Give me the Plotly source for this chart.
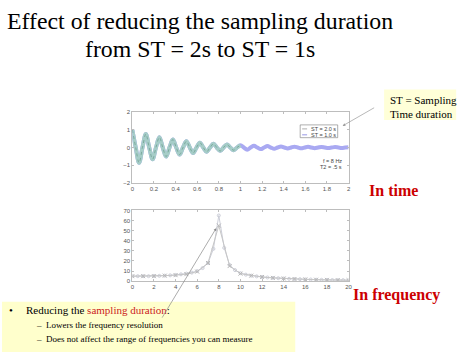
import numpy as np
import plotly.graph_objects as go

# ---------------- data ----------------
# time signal: extremes (peaks/troughs) and zero crossings, every 1/32 s, 0..2 s
t_signal = list(np.linspace(0, 2, 65))
x_signal = [1.00, 0, -0.86, 0, 0.76, 0, -0.66, 0, 0.58, 0, -0.51, 0, 0.45, 0, -0.40, 0,
            0.35, 0, -0.31, 0, 0.27, 0, -0.24, 0, 0.21, 0, -0.19, 0, 0.17, 0, -0.15, 0,
            0.13, 0, -0.12, 0, 0.10, 0, -0.09, 0, 0.08, 0, -0.07, 0, 0.06, 0, -0.055, 0,
            0.05, 0, -0.045, 0, 0.04, 0, -0.035, 0, 0.03, 0, -0.027, 0, 0.024, 0, -0.021, 0,
            0.018]
st1_len = 33  # samples covering 0..1 s

# spectrum, ST = 2 s (0.5 Hz resolution)
f_st2 = [i * 0.5 for i in range(41)]
mag_st2 = [5, 5, 5, 5, 5.2, 5.3, 5.5, 5.8, 6.2, 6.8, 7.5, 8.5, 10, 13, 18, 32, 65, 33, 16, 11,
           8, 6.5, 5.5, 4.8, 4.2, 3.7, 3.3, 3.0, 2.7, 2.4, 2.2, 2.0, 1.8, 1.7, 1.5, 1.4,
           1.3, 1.2, 1.1, 1.05, 1.0]
# spectrum, ST = 1 s (1 Hz resolution)
f_st1 = list(range(21))
mag_st1 = [5, 5, 5, 5.5, 6, 7, 9.5, 18, 55, 15, 7.5, 5.5, 4.2, 3.3, 2.7, 2.2, 1.8, 1.5, 1.3, 1.1, 1.0]

time_ticks = [0, 0.2, 0.4, 0.6, 0.8, 1, 1.2, 1.4, 1.6, 1.8, 2]
time_labels = ["0", "0.2", "0.4", "0.6", "0.8", "1", "1.2", "1.4", "1.6", "1.8", "2"]
freq_ticks = list(range(0, 21, 2))
amp_ticks = [-2, -1, 0, 1, 2]
mag_ticks = list(range(0, 71, 10))

W, H = 474, 355
SERIF = "Liberation Serif, Times New Roman, DejaVu Serif, serif"
def px(x): return x / W
def py(y): return 1 - y / H

fig = go.Figure()

# upper plot
fig.add_trace(go.Scatter(x=t_signal, y=x_signal, mode="lines", line=dict(color="#a9a9f2", width=4, shape="spline"),
                         name="ST = 2.0 s", xaxis="x", yaxis="y"))
fig.add_trace(go.Scatter(x=t_signal[:st1_len], y=x_signal[:st1_len], mode="lines",
                         line=dict(color="#a6cdc8", width=4, shape="spline"),
                         name="ST = 1.0 s", xaxis="x", yaxis="y"))
fig.add_trace(go.Scatter(x=t_signal[:st1_len], y=x_signal[:st1_len], mode="lines",
                         line=dict(color="#6a9a8c", width=0.7, shape="spline", dash="dot"),
                         showlegend=False, xaxis="x", yaxis="y"))

# lower plot
fig.add_trace(go.Scatter(x=f_st2, y=mag_st2, mode="lines+markers",
                         line=dict(color="#ccced8", width=1),
                         marker=dict(symbol="circle-open", size=3, color="#ccced8"),
                         name="ST = 2 s", xaxis="x2", yaxis="y2"))
fig.add_trace(go.Scatter(x=f_st1, y=mag_st1, mode="lines+markers",
                         line=dict(color="#c6c6c6", width=1),
                         marker=dict(symbol="x-thin-open", size=4, color="#b8b8b8", line=dict(width=1, color="#b8b8b8")),
                         name="ST = 1 s", xaxis="x2", yaxis="y2"))

axis_common = dict(showgrid=False, zeroline=False, showline=True, mirror="ticks", linecolor="#bdbdbd",
                   linewidth=1, ticks="inside", ticklen=2, tickcolor="#bdbdbd",
                   tickfont=dict(size=6, color="#555", family="Liberation Sans"))

fig.update_layout(
    width=W, height=H, margin=dict(l=0, r=0, t=0, b=0),
    paper_bgcolor="white", plot_bgcolor="white", showlegend=False,
    xaxis=dict(domain=[px(132), px(351)], range=[0, 2], tickvals=time_ticks, ticktext=time_labels,
               anchor="y", **axis_common),
    yaxis=dict(domain=[py(183), py(111)], range=[-2, 2], tickvals=amp_ticks, anchor="x", **axis_common),
    xaxis2=dict(domain=[px(132), px(351)], range=[0, 20], tickvals=freq_ticks, anchor="y2", **axis_common),
    yaxis2=dict(domain=[py(283), py(211)], range=[0, 70], tickvals=mag_ticks, anchor="x2", **axis_common),
)

shapes = []
annotations = []

def note(text, x, y, size, family=SERIF, color="black", xanchor="center", align="center"):
    annotations.append(dict(text=text, x=px(x), y=py(y), xref="paper", yref="paper", xanchor=xanchor,
                            yanchor="middle", align=align, showarrow=False,
                            font=dict(family=family, size=size, color=color)))

# title
note("Effect of reducing the sampling duration", 201, 18, 23.8)
note("from ST = 2s to ST = 1s", 201, 47, 23.8)

# legend in upper plot (manual)
shapes.append(dict(type="rect", xref="paper", yref="paper", x0=px(302), x1=px(340), y0=py(137), y1=py(124),
                   line=dict(color="#777", width=0.6), fillcolor="white", layer="above"))
shapes.append(dict(type="line", xref="paper", yref="paper", x0=px(304), x1=px(309), y0=py(128), y1=py(128),
                   line=dict(color="#c8c8c8", width=1.5), layer="above"))
shapes.append(dict(type="line", xref="paper", yref="paper", x0=px(304), x1=px(309), y0=py(134), y1=py(134),
                   line=dict(color="#b8b8ee", width=1.5), layer="above"))
note("ST = 2.0 s", 311, 128, 5.5, family="Liberation Sans", color="#444", xanchor="left")
note("ST = 1.0 s", 311, 134, 5.5, family="Liberation Sans", color="#444", xanchor="left")
note("f = 8 Hz", 346, 161, 5.5, family="Liberation Sans", color="#444", xanchor="right")
note("T2 = .5 s", 346, 167, 5.5, family="Liberation Sans", color="#444", xanchor="right")

# callout box
shapes.append(dict(type="rect", xref="paper", yref="paper", x0=px(387), x1=px(460), y0=py(119), y1=py(88),
                   line=dict(width=0), fillcolor="#ffffd8", layer="below"))
note("ST = Sampling<br>Time duration", 391, 106, 11, xanchor="left", align="left")
annotations.append(dict(text="", x=px(345), y=py(125), xref="paper", yref="paper", showarrow=True,
                        ax=33, ay=-19, arrowhead=2, arrowsize=0.8, arrowwidth=0.7, arrowcolor="#999"))

# red labels
note("<b>In time</b>", 397, 191, 16, color="#cc0000")
note("<b>In frequency</b>", 400, 297, 16, color="#cc0000")

# bottom box
shapes.append(dict(type="rect", xref="paper", yref="paper", x0=0, x1=px(297), y0=0, y1=py(304),
                   line=dict(width=0), fillcolor="#ffffcc", layer="below"))
note("•", 5, 312, 11, xanchor="left")
note("Reducing the <span style='color:#cc2222'>sampling duration</span>:", 22, 312, 11, xanchor="left")
for txt, yy in [("Lowers the frequency resolution", 328), ("Does not affect the range of frequencies you can measure", 342)]:
    note("–", 32, yy, 9, xanchor="left")
    note(txt, 43, yy, 9, xanchor="left")
annotations.append(dict(text="", x=px(217), y=py(229), xref="paper", yref="paper", showarrow=True,
                        ax=-55, ay=91, arrowhead=2, arrowsize=0.8, arrowwidth=0.7, arrowcolor="#888"))

fig.update_layout(shapes=shapes, annotations=annotations)
fig.write_html("out.html")
